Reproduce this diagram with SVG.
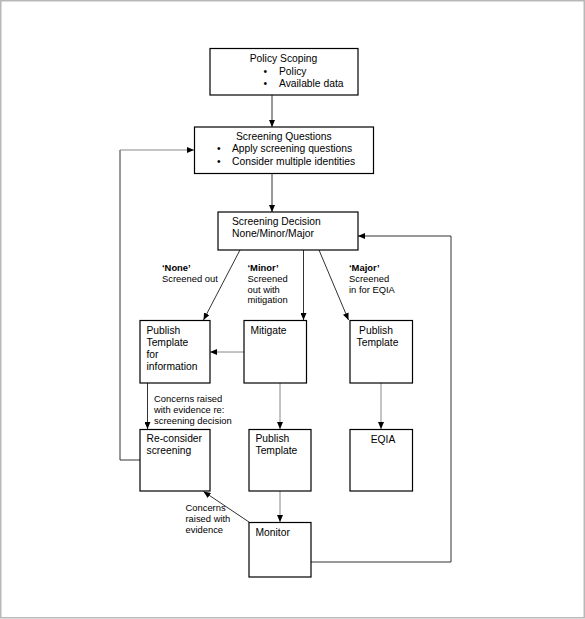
<svg xmlns="http://www.w3.org/2000/svg" width="585" height="619" viewBox="0 0 585 619">
<style>
.box{fill:#fff;stroke:#000;stroke-width:1.2}
.t{font-family:"Liberation Sans",Arial,sans-serif;font-size:10.3px;fill:#000}
.l{font-family:"Liberation Sans",Arial,sans-serif;font-size:9.4px;fill:#000}
.b{font-weight:bold}
.c{fill:none;stroke:#333;stroke-width:1}
.g{fill:none;stroke:#888;stroke-width:1}
</style>
<defs>
<marker id="ah" markerUnits="userSpaceOnUse" markerWidth="7" markerHeight="6" viewBox="0 0 7 6" refX="7" refY="3" orient="auto">
<path d="M0,0 L7,3 L0,6 Z" fill="#000"/>
</marker>
</defs>
<rect x="0.75" y="0.75" width="583.5" height="617" fill="#fff" stroke="#b8b8b8" stroke-width="1.5"/>
<g id="connectors">
<line class="c" x1="272" y1="95" x2="272" y2="127" marker-end="url(#ah)"/>
<line class="c" x1="272" y1="173" x2="272" y2="212" marker-end="url(#ah)"/>
<polyline class="c" points="140,460 120,460 120,150"/>
<line class="g" x1="120" y1="150" x2="194" y2="150" marker-end="url(#ah)"/>
<polyline class="c" points="311,562 451,562 451,236 358,236" marker-end="url(#ah)"/>
<line class="c" x1="240" y1="250" x2="203.5" y2="320" marker-end="url(#ah)"/>
<line class="c" x1="303.5" y1="250" x2="303.5" y2="320" marker-end="url(#ah)"/>
<line class="c" x1="319" y1="250" x2="348.5" y2="320" marker-end="url(#ah)"/>
<line class="g" x1="244" y1="352" x2="210" y2="352" marker-end="url(#ah)"/>
<line class="c" x1="147.5" y1="383" x2="147.5" y2="429" marker-end="url(#ah)"/>
<line class="g" x1="280" y1="383" x2="280" y2="429" marker-end="url(#ah)"/>
<line class="g" x1="381" y1="383" x2="381" y2="429" marker-end="url(#ah)"/>
<line class="g" x1="280" y1="491" x2="280" y2="522" marker-end="url(#ah)"/>
<line class="c" x1="249" y1="522" x2="203.5" y2="491.5" marker-end="url(#ah)"/>
</g>
<g id="policy-scoping">
<rect class="box" x="210" y="48.5" width="148" height="46.5"/>
<text class="t" x="283.5" y="62" text-anchor="middle">Policy Scoping</text>
<text class="t" x="263.5" y="75">•</text><text class="t" x="279" y="75">Policy</text>
<text class="t" x="263.5" y="87">•</text><text class="t" x="279" y="87">Available data</text>
</g>
<g id="screening-questions">
<rect class="box" x="194.5" y="127" width="179" height="46.5"/>
<text class="t" x="236" y="140">Screening Questions</text>
<text class="t" x="217" y="152">•</text><text class="t" x="232" y="152">Apply screening questions</text>
<text class="t" x="217" y="164.5">•</text><text class="t" x="232" y="164.5">Consider multiple identities</text>
</g>
<g id="screening-decision">
<rect class="box" x="218" y="212" width="140" height="38"/>
<text class="t" x="232" y="225">Screening Decision</text>
<text class="t" x="232" y="237">None/Minor/Major</text>
</g>
<g id="labels">
<text class="l" x="162" y="271"><tspan class="b">‘None’</tspan></text>
<text class="l" x="162" y="281.5">Screened out</text>
<text class="l" x="247.5" y="271"><tspan class="b">‘Minor’</tspan></text>
<text class="l" x="247.5" y="281.5">Screened</text>
<text class="l" x="247.5" y="292.5">out with</text>
<text class="l" x="247.5" y="303">mitigation</text>
<text class="l" x="349" y="271"><tspan class="b">‘Major’</tspan></text>
<text class="l" x="349" y="281.5">Screened</text>
<text class="l" x="349" y="292.5">in for EQIA</text>
<text class="l" x="154" y="402">Concerns raised</text>
<text class="l" x="154" y="413">with evidence re:</text>
<text class="l" x="154" y="424">screening decision</text>
<text class="l" x="185.5" y="511">Concerns</text>
<text class="l" x="185.5" y="521.5">raised with</text>
<text class="l" x="185.5" y="532.5">evidence</text>
</g>
<g id="publish-info">
<rect class="box" x="140" y="320.5" width="70" height="62.5"/>
<text class="t" x="146.5" y="333.5">Publish</text>
<text class="t" x="146.5" y="345.5">Template</text>
<text class="t" x="146.5" y="357.5">for</text>
<text class="t" x="146.5" y="369.5">information</text>
</g>
<g id="mitigate">
<rect class="box" x="244" y="320.5" width="62.5" height="62.5"/>
<text class="t" x="250.5" y="333.5">Mitigate</text>
</g>
<g id="publish-major">
<rect class="box" x="350" y="320.5" width="62.5" height="62.5"/>
<text class="t" x="376" y="333.5" text-anchor="middle">Publish</text>
<text class="t" x="377.5" y="345.5" text-anchor="middle">Template</text>
</g>
<g id="reconsider">
<rect class="box" x="140" y="429.5" width="70" height="61.5"/>
<text class="t" x="146.5" y="442">Re-consider</text>
<text class="t" x="146.5" y="453.5">screening</text>
</g>
<g id="publish-minor">
<rect class="box" x="249" y="429.5" width="62" height="61.5"/>
<text class="t" x="255.5" y="442">Publish</text>
<text class="t" x="255.5" y="453.5">Template</text>
</g>
<g id="eqia">
<rect class="box" x="350" y="429.5" width="62.5" height="61.5"/>
<text class="t" x="383" y="442.5" text-anchor="middle">EQIA</text>
</g>
<g id="monitor">
<rect class="box" x="249" y="522.5" width="62" height="54.5"/>
<text class="t" x="255.5" y="535.5">Monitor</text>
</g>
</svg>
